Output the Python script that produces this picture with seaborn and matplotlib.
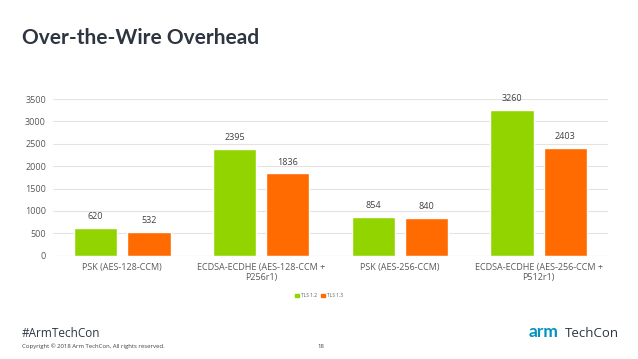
import pandas as pd
import seaborn as sns
import matplotlib.pyplot as plt

# Werte aus dem Diagramm
categories = ["PSK (AES-128-CCM)", "ECDSA-ECDHE (AES-128-CCM +\nP256r1)",
              "PSK (AES-256-CCM)", "ECDSA-ECDHE (AES-256-CCM +\nP512r1)"]
series = ["TLS 1.2", "TLS 1.3"]
tls12 = [620, 2395, 854, 3260]
tls13 = [532, 1836, 840, 2403]
yticks = [0, 500, 1000, 1500, 2000, 2500, 3000, 3500]

data = pd.DataFrame({
    "category": categories * 2,
    "version": [series[0]] * 4 + [series[1]] * 4,
    "bytes": tls12 + tls13,
})

sns.set_theme(style="white")
plt.rcParams['font.family'] = ['Open Sans', 'DejaVu Sans']

fig = plt.figure(figsize=(6.38, 3.59), dpi=100)
ax = fig.add_axes([0.083, 0.288, 0.87, 0.436])

sns.barplot(data=data, x="category", y="bytes", hue="version", order=categories,
            hue_order=series, palette=["#92d400", "#ff6b00"], width=0.77, gap=0.19,
            saturation=1, ax=ax, legend=False)

for cont in ax.containers:
    ax.bar_label(cont, fmt="%d", padding=5, fontsize=6.5, color="#404040")

ax.set_ylim(0, 3500)
ax.set_yticks(yticks)
ax.yaxis.grid(True, color="#e3e3e3", linewidth=0.8)
ax.set_axisbelow(True)
for s in ax.spines.values():
    s.set_visible(False)
ax.axhline(0, color="#d9d9d9", linewidth=0.8)
ax.set_xlabel("")
ax.set_ylabel("")
ax.tick_params(axis="both", length=0, labelsize=6.5, labelcolor="#595959")
ax.tick_params(axis="y", pad=5)
ax.tick_params(axis="x", pad=5)

# Legende
handles = [plt.Rectangle((0, 0), 1, 1, color=c) for c in ["#92d400", "#ff6b00"]]
fig.legend(handles, series, loc="center", bbox_to_anchor=(0.5, 0.176), ncol=2,
           frameon=False, fontsize=3.5, handlelength=0.8, handleheight=0.8,
           handletextpad=0.4, columnspacing=1.0, labelcolor="#595959")

# Titel und Fusszeile
fig.text(0.034, 0.894, "Over-the-Wire Overhead", fontsize=15, fontweight="bold",
         color="#2d3640", va="center", family=["Lato", "DejaVu Sans"])
fig.text(0.034, 0.072, "#ArmTechCon", fontsize=8.5, color="#2d3640", va="center")
fig.text(0.034, 0.036, "Copyright © 2018 Arm TechCon, All rights reserved.",
         fontsize=4.3, color="#404040", va="center")
fig.text(0.498, 0.036, "18", fontsize=4.3, color="#404040", va="center")
fig.text(0.828, 0.074, "arm", fontsize=12.5, fontweight="bold", color="#0091bd",
         va="center", family=["Lato", "DejaVu Sans"])
fig.text(0.885, 0.072, "TechCon", fontsize=9.5, color="#2d3640", va="center")

fig.savefig("out.png", dpi=100)
